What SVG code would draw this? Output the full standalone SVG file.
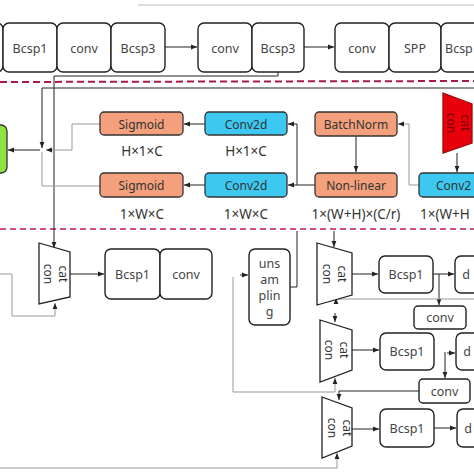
<svg xmlns="http://www.w3.org/2000/svg" width="474" height="474" viewBox="0 0 474 474">
<defs>
<marker id="ah" viewBox="0 0 10 10" refX="10" refY="5" markerWidth="6" markerHeight="6" orient="auto" markerUnits="userSpaceOnUse"><path d="M0,1 L10,5 L0,9 Z" fill="#222"/></marker>
<style>
.box{fill:#fff;stroke:#222;stroke-width:1.4}
.or{fill:#f4a07c;stroke:#333;stroke-width:1.3}
.cy{fill:#3cc8f0;stroke:#333;stroke-width:1.3}
.cc{fill:#fff;stroke:#222;stroke-width:1.3}
.t{font-family:"Noto Sans","Liberation Sans",sans-serif;font-size:12.5px;fill:#444;text-anchor:middle;dominant-baseline:central}
.ts{font-family:"Noto Sans","Liberation Sans",sans-serif;font-size:12.5px;fill:#444;dominant-baseline:central}
.tm{font-family:"Noto Sans","Liberation Sans",sans-serif;font-size:12px;fill:#333;text-anchor:middle;dominant-baseline:central}
.tms{font-family:"Noto Sans","Liberation Sans",sans-serif;font-size:12px;fill:#333;dominant-baseline:central}
.lab{font-family:"Noto Sans","Liberation Sans",sans-serif;font-size:13.5px;fill:#333;text-anchor:middle;dominant-baseline:central}
.labs{font-family:"Noto Sans","Liberation Sans",sans-serif;font-size:13.5px;fill:#333;dominant-baseline:central}
.ln{fill:none;stroke:#222;stroke-width:1}
.lg{fill:none;stroke:#999;stroke-width:1}
.dash1{stroke:#a8184a;stroke-width:2;stroke-dasharray:7,4;fill:none}
.dash2{stroke:#d4507a;stroke-width:1.8;stroke-dasharray:6,4;fill:none}
</style>
</defs>
<rect width="474" height="474" fill="#fff"/>
<line x1="138" y1="5" x2="474" y2="5" stroke="#ddd" stroke-width="2"/>
<line class="dash1" x1="0" y1="82" x2="474" y2="81"/>
<line class="dash2" x1="0" y1="229" x2="474" y2="229"/>

<g id="connectors">
<path class="ln" d="M165,47 H197" marker-end="url(#ah)"/>
<path class="ln" d="M304,47 H334" marker-end="url(#ah)"/>
<path class="ln" d="M278,72 V76 H54 V248" marker-end="url(#ah)"/>
<path class="ln" d="M474,88 H42 V148" marker-end="url(#ah)"/>
<path class="lg" d="M100,124 H72 V150 H46" marker-end="url(#ah)"/>
<path class="lg" d="M100,186 H42 V152"/>
<path class="ln" d="M40,150 H8" marker-end="url(#ah)"/>
<path class="ln" d="M205,124 H184" marker-end="url(#ah)"/>
<path class="ln" d="M205,185 H184" marker-end="url(#ah)"/>
<path class="ln" d="M315,185 H288" marker-end="url(#ah)"/>
<path class="ln" d="M297,185 V124 H288" marker-end="url(#ah)"/>
<path class="ln" d="M356,136 V172" marker-end="url(#ah)"/>
<path class="lg" d="M419,185 H409 V124 H398" marker-end="url(#ah)"/>
<path class="ln" d="M457,153 V172" marker-end="url(#ah)"/>
<path class="lg" d="M0,274 H12 V316 H55 V303" marker-end="url(#ah)"/>
<path class="ln" d="M70,274 H104" marker-end="url(#ah)"/>
<path class="lg" d="M233,277 V392 H335 V378" marker-end="url(#ah)"/>
<path class="lg" d="M0,468 H337 V453" marker-end="url(#ah)"/>
<path class="ln" d="M240,275 H248" marker-end="url(#ah)"/>
<path class="ln" d="M290,287 H297 V231"/>
<path class="ln" d="M334,231 V247" marker-end="url(#ah)"/>
<path class="ln" d="M352,274 H378" marker-end="url(#ah)"/>
<path class="ln" d="M433,274 H454" marker-end="url(#ah)"/>
<path class="ln" d="M439,274 V305" marker-end="url(#ah)"/>
<path class="lg" d="M474,299 H336 V297" />
<path class="ln" d="M336,303 V298" marker-end="url(#ah)"/>
<path class="ln" d="M335,313 V322" marker-end="url(#ah)"/>
<path class="ln" d="M352,350 H379" marker-end="url(#ah)"/>
<path class="ln" d="M447,353 H455" marker-end="url(#ah)"/>
<path class="ln" d="M445,352 V378" marker-end="url(#ah)"/>
<path class="ln" d="M419,391 H339 V400" marker-end="url(#ah)"/>
<path class="ln" d="M352,429 H379" marker-end="url(#ah)"/>
<path class="ln" d="M434,428 H456" marker-end="url(#ah)"/>
</g>

<g id="top-left-partial"><rect class="box" x="-50" y="23" width="53" height="49" rx="6"/></g>
<g id="bcsp1-top"><rect class="box" x="3" y="23" width="54" height="49" rx="6"/><text class="t" x="30" y="48">Bcsp1</text></g>
<g id="conv-top1"><rect class="box" x="57" y="23" width="54" height="49" rx="6"/><text class="t" x="84" y="48">conv</text></g>
<g id="bcsp3-top1"><rect class="box" x="111" y="23" width="54" height="49" rx="6"/><text class="t" x="138" y="48">Bcsp3</text></g>
<g id="conv-top2"><rect class="box" x="198" y="23" width="54" height="49" rx="6"/><text class="t" x="225" y="48">conv</text></g>
<g id="bcsp3-top2"><rect class="box" x="252" y="23" width="52" height="49" rx="6"/><text class="t" x="278" y="48">Bcsp3</text></g>
<g id="conv-top3"><rect class="box" x="335" y="23" width="54" height="49" rx="6"/><text class="t" x="362" y="48">conv</text></g>
<g id="spp"><rect class="box" x="389" y="23" width="52" height="49" rx="6"/><text class="t" x="415" y="48">SPP</text></g>
<g id="bcsp-top-right"><rect class="box" x="441" y="23" width="54" height="49" rx="6"/><text class="ts" x="445" y="48">Bcsp</text></g>

<g id="green"><rect x="-20" y="125" width="27" height="48" rx="6" fill="#8ee53f" stroke="#333" stroke-width="1.3"/></g>
<g id="sigmoid1"><rect class="or" x="100" y="112" width="83" height="23" rx="4"/><text class="tm" x="141.5" y="124">Sigmoid</text><text class="lab" x="142" y="151">H×1×C</text></g>
<g id="conv2d1"><rect class="cy" x="205" y="112" width="82" height="23" rx="4"/><text class="tm" x="246" y="124">Conv2d</text><text class="lab" x="246" y="151">H×1×C</text></g>
<g id="sigmoid2"><rect class="or" x="100" y="173" width="83" height="24" rx="4"/><text class="tm" x="141.5" y="185">Sigmoid</text><text class="lab" x="142" y="214">1×W×C</text></g>
<g id="conv2d2"><rect class="cy" x="205" y="173" width="82" height="24" rx="4"/><text class="tm" x="246" y="185">Conv2d</text><text class="lab" x="246" y="214">1×W×C</text></g>
<g id="batchnorm"><rect class="or" x="315" y="112" width="82" height="24" rx="4"/><text class="tm" x="356" y="124">BatchNorm</text></g>
<g id="nonlinear"><rect class="or" x="315" y="173" width="82" height="24" rx="4"/><text class="tm" x="356" y="185">Non-linear</text><text class="lab" x="356" y="214">1×(W+H)×(C/r)</text></g>
<g id="conv2d3"><rect class="cy" x="419" y="173" width="90" height="24" rx="4"/><text class="tms" x="436" y="185">Conv2</text><text class="labs" x="420" y="214">1×(W+H</text></g>
<g id="concat-red"><path d="M443,93 L472,104 L472,143 L443,153 Z" fill="#e8000b" stroke="#9a0a10" stroke-width="1.3"/><text class="tm" transform="translate(451,123) rotate(90)" style="fill:#7a0008">con</text><text class="tm" transform="translate(465,123) rotate(90)" style="fill:#7a0008">cat</text></g>

<g id="concat1"><path class="cc" d="M39,243 L70,252 L70,297 L39,304 Z"/><text class="tm" transform="translate(48,274) rotate(90)">con</text><text class="tm" transform="translate(63,274) rotate(90)">cat</text></g>
<g id="bcsp1-b"><rect class="box" x="105" y="249" width="55" height="50" rx="6"/><text class="t" x="132.5" y="274">Bcsp1</text></g>
<g id="conv-b"><rect class="box" x="160" y="249" width="52" height="50" rx="6"/><text class="t" x="186" y="274">conv</text></g>
<g id="upsampling"><rect class="box" x="249" y="249" width="41" height="76" rx="6"/><text class="t" x="269.5" y="263">uns</text><text class="t" x="269.5" y="279">am</text><text class="t" x="269.5" y="295">plin</text><text class="t" x="269.5" y="311">g</text></g>

<g id="concat2"><path class="cc" d="M317,243 L352,253 L352,295 L317,305 Z"/><text class="tm" transform="translate(327,274) rotate(90)">con</text><text class="tm" transform="translate(342,274) rotate(90)">cat</text></g>
<g id="bcsp1-r1"><rect class="box" x="379" y="256" width="54" height="37" rx="6"/><text class="t" x="406" y="274">Bcsp1</text></g>
<g id="d1"><rect class="box" x="455" y="256" width="50" height="37" rx="6"/><text class="t" x="466" y="274">d</text></g>
<g id="conv-r1"><rect class="box" x="414" y="306" width="52" height="23" rx="4"/><text class="t" x="440" y="317">conv</text></g>

<g id="concat3"><path class="cc" d="M320,320 L352,330 L352,370 L320,382 Z"/><text class="tm" transform="translate(329,350) rotate(90)">con</text><text class="tm" transform="translate(344,350) rotate(90)">cat</text></g>
<g id="bcsp1-r2"><rect class="box" x="380" y="333" width="54" height="37" rx="6"/><text class="t" x="407" y="351">Bcsp1</text></g>
<g id="d2"><rect class="box" x="456" y="333" width="50" height="37" rx="6"/><text class="t" x="467" y="351">d</text></g>
<g id="conv-r2"><rect class="box" x="419" y="379" width="51" height="24" rx="4"/><text class="t" x="444.5" y="391">conv</text></g>

<g id="concat4"><path class="cc" d="M322,397 L352,408 L352,446 L322,458 Z"/><text class="tm" transform="translate(332,428) rotate(90)">con</text><text class="tm" transform="translate(347,428) rotate(90)">cat</text></g>
<g id="bcsp1-r3"><rect class="box" x="380" y="409" width="54" height="38" rx="6"/><text class="t" x="407" y="428">Bcsp1</text></g>
<g id="d3"><rect class="box" x="457" y="409" width="50" height="38" rx="6"/><text class="t" x="468" y="428">d</text></g>
</svg>
